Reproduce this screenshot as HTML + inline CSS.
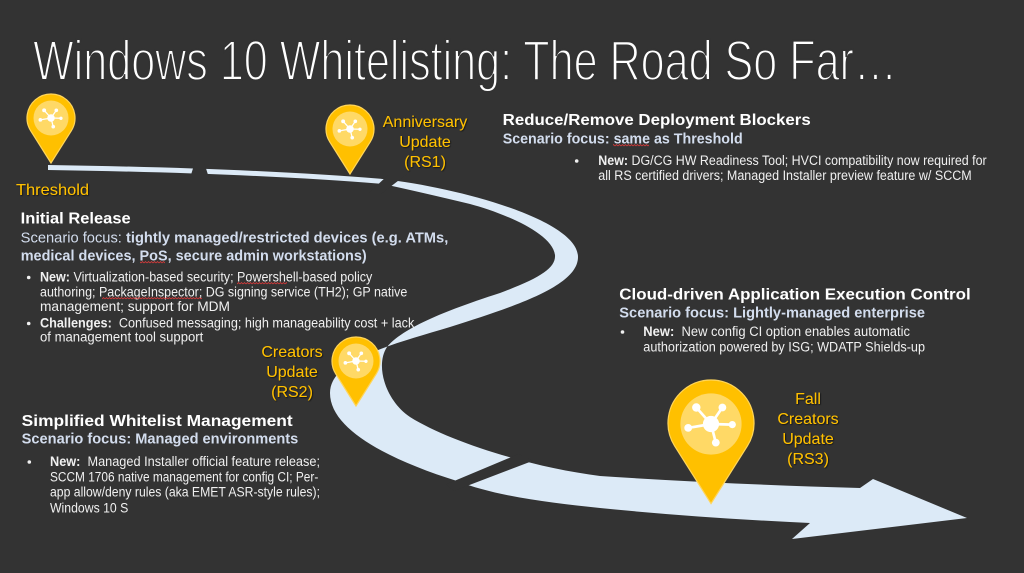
<!DOCTYPE html>
<html>
<head>
<meta charset="utf-8">
<style>
  html, body { margin:0; padding:0; background:#333333; }
  body { width:1024px; height:573px; overflow:hidden; }
  svg { display:block; }
  text { font-family: "Liberation Sans", Arial, sans-serif; white-space: pre; }
  .h { font-weight:bold; font-size:16px; fill:#ffffff; }
  .sc { font-size:14.6px; fill:#D3DDEE; font-weight:bold; }
  .b { font-size:13.5px; fill:#F0F0F0; }
  .lbl { font-size:16px; fill:#FFC000; }
</style>
</head>
<body>
<svg width="1024" height="573" viewBox="0 0 1024 573" xmlns="http://www.w3.org/2000/svg">
  <defs>
    <g id="ic">
      <g stroke="#ffffff" stroke-width="0.09">
        <line x1="0" y1="0" x2="0.38" y2="-0.55"/>
        <line x1="0" y1="0" x2="0.71" y2="0.02"/>
        <line x1="0" y1="0" x2="-0.76" y2="0.13"/>
        <line x1="0" y1="0" x2="0.16" y2="0.62"/>
        <line x1="0" y1="0" x2="-0.49" y2="-0.55"/>
      </g>
      <g fill="#ffffff">
        <circle r="0.27"/>
        <circle cx="0.38" cy="-0.55" r="0.13"/>
        <circle cx="0.71" cy="0.02" r="0.12"/>
        <circle cx="-0.76" cy="0.13" r="0.13"/>
        <circle cx="0.16" cy="0.62" r="0.13"/>
        <circle cx="-0.49" cy="-0.55" r="0.14"/>
      </g>
    </g>
    <pattern id="sq" width="3" height="3" patternUnits="userSpaceOnUse">
      <path d="M0,2 L1.5,0.6 L3,2" stroke="#E03A3A" stroke-width="0.8" fill="none"/>
    </pattern>
    <filter id="sh" x="-10%" y="-10%" width="130%" height="130%">
      <feDropShadow dx="0.8" dy="0.8" stdDeviation="0.6" flood-color="#000" flood-opacity="0.7"/>
    </filter>
  </defs>

  <rect width="1024" height="573" fill="#333333"/>

  <!-- Title -->
  <text x="33" y="80" font-size="57" fill="#ffffff" stroke="#333333" stroke-width="1.9" textLength="864" lengthAdjust="spacingAndGlyphs">Windows 10 Whitelisting: The Road So Far…</text>

  <!-- Road -->
  <path fill="#DCEAF7" d="M48,165 Q250,168 383,179 C460,188 578,220 578,257 C578,285 520,305 450,327 C390,345 330,360 330,393 C330,430 390,460 457,481 C495,496 550,503 600,508 Q700,518 810,523 L792,539 L967,518 L873,479 L860,488 Q720,484 600,476 C530,467 450,442 410,417 C385,400 375,365 387,347 C405,325 460,306 500,293 C540,278 556,268 555,255 C552,232 500,212 470,204 Q420,192 383,184 Q250,173 48,170 Z"/>
  <!-- gaps -->
  <polygon fill="#333333" points="195,162 204,162 209,178 190,178"/>
  <polygon fill="#333333" points="389,174 407,174 381,194 368,194"/>
  <polygon fill="#333333" points="518.6,454 533,460.7 453.7,491 446.4,484.3"/>

  <!-- Pins -->
  <g stroke="#FFD55A" stroke-width="1.2">
    <path fill="#FFC000" d="M51,163 L30.7,130.8 A24,24 0 1 1 71.3,130.8 Z"/>
    <path fill="#FFC000" d="M350,174 L329.7,141.8 A24,24 0 1 1 370.3,141.8 Z"/>
    <path fill="#FFC000" d="M356,406 L335.7,373.8 A24,24 0 1 1 376.3,373.8 Z"/>
    <path fill="#FFC000" d="M711,503.6 L674.6,445.9 A43,43 0 1 1 747.4,445.9 Z"/>
  </g>
  <circle cx="51" cy="118" r="17.5" fill="#FFD966"/>
  <circle cx="350" cy="129" r="17.5" fill="#FFD966"/>
  <circle cx="356" cy="361" r="17.5" fill="#FFD966"/>
  <circle cx="711" cy="424" r="30.6" fill="#FFD966"/>
  <use href="#ic" transform="translate(51,118) scale(14)"/>
  <use href="#ic" transform="translate(350,129) scale(14)"/>
  <use href="#ic" transform="translate(356,361) scale(14)"/>
  <use href="#ic" transform="translate(711,424) scale(30)"/>

  <!-- Pin labels -->
  <g class="lbl" filter="url(#sh)">
    <text class="lbl" x="16" y="195" textLength="73" lengthAdjust="spacingAndGlyphs">Threshold</text>
    <text class="lbl" x="425" y="127" text-anchor="middle">Anniversary</text>
    <text class="lbl" x="425" y="147" text-anchor="middle">Update</text>
    <text class="lbl" x="425" y="167" text-anchor="middle">(RS1)</text>
    <text class="lbl" x="292" y="357" text-anchor="middle">Creators</text>
    <text class="lbl" x="292" y="377" text-anchor="middle">Update</text>
    <text class="lbl" x="292" y="397" text-anchor="middle">(RS2)</text>
    <text class="lbl" x="808" y="404" text-anchor="middle">Fall</text>
    <text class="lbl" x="808" y="424" text-anchor="middle">Creators</text>
    <text class="lbl" x="808" y="444" text-anchor="middle">Update</text>
    <text class="lbl" x="808" y="464" text-anchor="middle">(RS3)</text>
  </g>

  <!-- Block 1: Initial Release -->
  <text class="h" x="20.7" y="223.3" textLength="110" lengthAdjust="spacingAndGlyphs">Initial Release</text>
  <text class="sc" x="20.7" y="242.7" textLength="427.6" lengthAdjust="spacingAndGlyphs" xml:space="preserve"><tspan font-weight="normal">Scenario focus: </tspan>tightly managed/restricted devices (e.g. ATMs,</text>
  <text class="sc" x="20.7" y="260.7" textLength="346" lengthAdjust="spacingAndGlyphs">medical devices, PoS, secure admin workstations)</text>
  <circle cx="28.7" cy="277.5" r="1.8" fill="#F0F0F0"/>
  <text class="b" x="40" y="281.7" textLength="332.3" lengthAdjust="spacingAndGlyphs" xml:space="preserve"><tspan font-weight="bold">New:</tspan> Virtualization-based security; Powershell-based policy</text>
  <text class="b" x="40" y="296.7" textLength="367.3" lengthAdjust="spacingAndGlyphs">authoring; PackageInspector; DG signing service (TH2); GP native</text>
  <text class="b" x="40" y="311" textLength="190" lengthAdjust="spacingAndGlyphs">management; support for MDM</text>
  <circle cx="28.7" cy="323.5" r="1.8" fill="#F0F0F0"/>
  <text class="b" x="40" y="327.7" textLength="374.3" lengthAdjust="spacingAndGlyphs" xml:space="preserve"><tspan font-weight="bold">Challenges:</tspan>  Confused messaging; high manageability cost + lack</text>
  <text class="b" x="40" y="341.7" textLength="163.3" lengthAdjust="spacingAndGlyphs">of management tool support</text>
  <rect x="140" y="261" width="25" height="3" fill="url(#sq)"/>
  <rect x="237" y="282" width="50" height="3" fill="url(#sq)"/>
  <rect x="102" y="297" width="100" height="3" fill="url(#sq)"/>

  <!-- Block 2: Reduce/Remove -->
  <text class="h" x="502.7" y="125" textLength="308" lengthAdjust="spacingAndGlyphs">Reduce/Remove Deployment Blockers</text>
  <text class="sc" x="502.7" y="143.3" textLength="240" lengthAdjust="spacingAndGlyphs">Scenario focus: same as Threshold</text>
  <rect x="613" y="144" width="36" height="3" fill="url(#sq)"/>
  <circle cx="576.7" cy="161" r="1.8" fill="#F0F0F0"/>
  <text class="b" x="598.3" y="165" textLength="388.4" lengthAdjust="spacingAndGlyphs" xml:space="preserve"><tspan font-weight="bold">New:</tspan> DG/CG HW Readiness Tool; HVCI compatibility now required for</text>
  <text class="b" x="598.3" y="180" textLength="373.4" lengthAdjust="spacingAndGlyphs">all RS certified drivers; Managed Installer preview feature w/ SCCM</text>

  <!-- Block 3: Cloud-driven -->
  <text class="h" x="619.3" y="299.3" textLength="351.4" lengthAdjust="spacingAndGlyphs">Cloud-driven Application Execution Control</text>
  <text class="sc" x="619.3" y="317.3" textLength="305.7" lengthAdjust="spacingAndGlyphs">Scenario focus: Lightly-managed enterprise</text>
  <circle cx="622.5" cy="332" r="1.8" fill="#F0F0F0"/>
  <text class="b" x="643.3" y="336" textLength="266.7" lengthAdjust="spacingAndGlyphs" xml:space="preserve"><tspan font-weight="bold">New:</tspan>  New config CI option enables automatic</text>
  <text class="b" x="643.3" y="351.7" textLength="281.7" lengthAdjust="spacingAndGlyphs">authorization powered by ISG; WDATP Shields-up</text>

  <!-- Block 4: Simplified -->
  <text class="h" x="21.7" y="426" textLength="271" lengthAdjust="spacingAndGlyphs">Simplified Whitelist Management</text>
  <text class="sc" x="21.7" y="443.3" textLength="276.6" lengthAdjust="spacingAndGlyphs">Scenario focus: Managed environments</text>
  <circle cx="29.3" cy="462" r="1.8" fill="#F0F0F0"/>
  <text class="b" x="50" y="466" textLength="270" lengthAdjust="spacingAndGlyphs" xml:space="preserve"><tspan font-weight="bold">New:</tspan>  Managed Installer official feature release;</text>
  <text class="b" x="50" y="481.7" textLength="268.3" lengthAdjust="spacingAndGlyphs">SCCM 1706 native management for config CI; Per-</text>
  <text class="b" x="50" y="496.7" textLength="270" lengthAdjust="spacingAndGlyphs">app allow/deny rules (aka EMET ASR-style rules);</text>
  <text class="b" x="50" y="512.7" textLength="78.3" lengthAdjust="spacingAndGlyphs">Windows 10 S</text>
</svg>
</body>
</html>
